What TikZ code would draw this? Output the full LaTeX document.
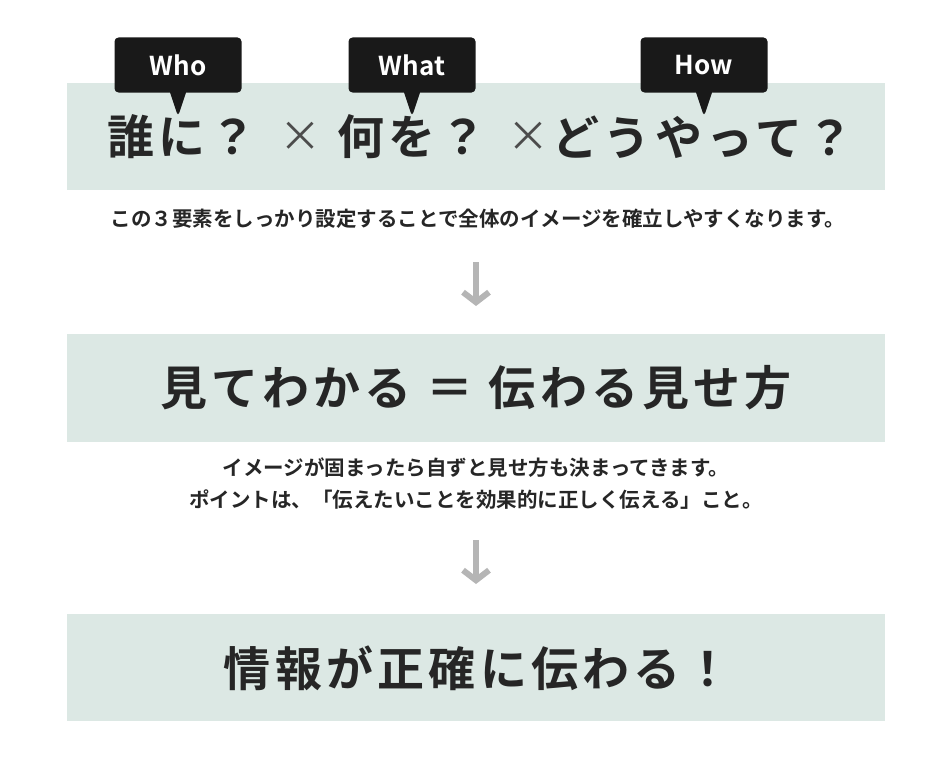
\documentclass[tikz,border=0pt]{standalone}
\usepackage{fontspec}
\setmainfont{Noto Sans CJK JP}[BoldFont={* Bold}]
\newfontfamily\jpbold{Noto Sans CJK JP Bold}
\usetikzlibrary{positioning}
\usetikzlibrary{arrows.meta}
\usetikzlibrary{shapes.callouts}
\definecolor{bandcol}{HTML}{DCE8E4}
\definecolor{arrowcol}{HTML}{B5B5B5}
\begin{document}
\begin{tikzpicture}[x=1pt, y=-1pt,
  band/.style={fill=bandcol, draw=none},
  bigtext/.style={font=\jpbold\fontsize{47}{52}\selectfont\addfontfeature{LetterSpace=9}, text=black!85},
  subtext/.style={font=\jpbold\fontsize{20.5}{32}\selectfont, text=black!85, align=center},
  tag/.style={rectangle callout, fill=black!90, text=white, rounded corners=4pt,
    minimum width=127pt, minimum height=55pt, font=\jpbold\fontsize{26}{28}\selectfont,
    callout relative pointer={(0,-24pt)}, callout pointer width=16pt},
  arrow/.style={-{Straight Barb[length=10pt, width=26pt, line width=6pt]}, line width=6pt, draw=arrowcol}
]
\useasboundingbox (0,0) rectangle (942,776);
\fill[band] (67,83) rectangle (885,190);
\fill[band] (67,334) rectangle (885,442);
\fill[band] (67,614) rectangle (885,721);
% top row
\node[tag] (who) at (178,65) {Who};
\node[tag] (what) at (412,65) {What};
\node[tag] (how) at (704,65) {How};
\node[bigtext] (t1) at (182,137) {誰に？};
\node[bigtext, font=\fontsize{42}{42}\selectfont, text=black!70] (x1) at (300,137) {×};
\node[bigtext] (t2) at (412,137) {何を？};
\node[bigtext, font=\fontsize{42}{42}\selectfont, text=black!70] (x2) at (528,137) {×};
\node[bigtext] (t3) at (703,137) {どうやって？};
\node[subtext] (s1) at (478,219) {この３要素をしっかり設定することで全体のイメージを確立しやすくなります。};
% middle
\node[bigtext] (m) at (476,388) {見てわかる ＝ 伝わる見せ方};
\node[subtext] (s2) at (476,484) {イメージが固まったら自ずと見せ方も決まってきます。\\ポイントは、「伝えたいことを効果的に正しく伝える」こと。};
% bottom
\node[bigtext] (b) at (478,668) {情報が正確に伝わる！};
\coordinate (a1) at (476,262);
\coordinate (a2) at (476,540);
\draw[arrow] (a1) -- ++(0,44);
\draw[arrow] (a2) -- ++(0,44);
\end{tikzpicture}
\end{document}
